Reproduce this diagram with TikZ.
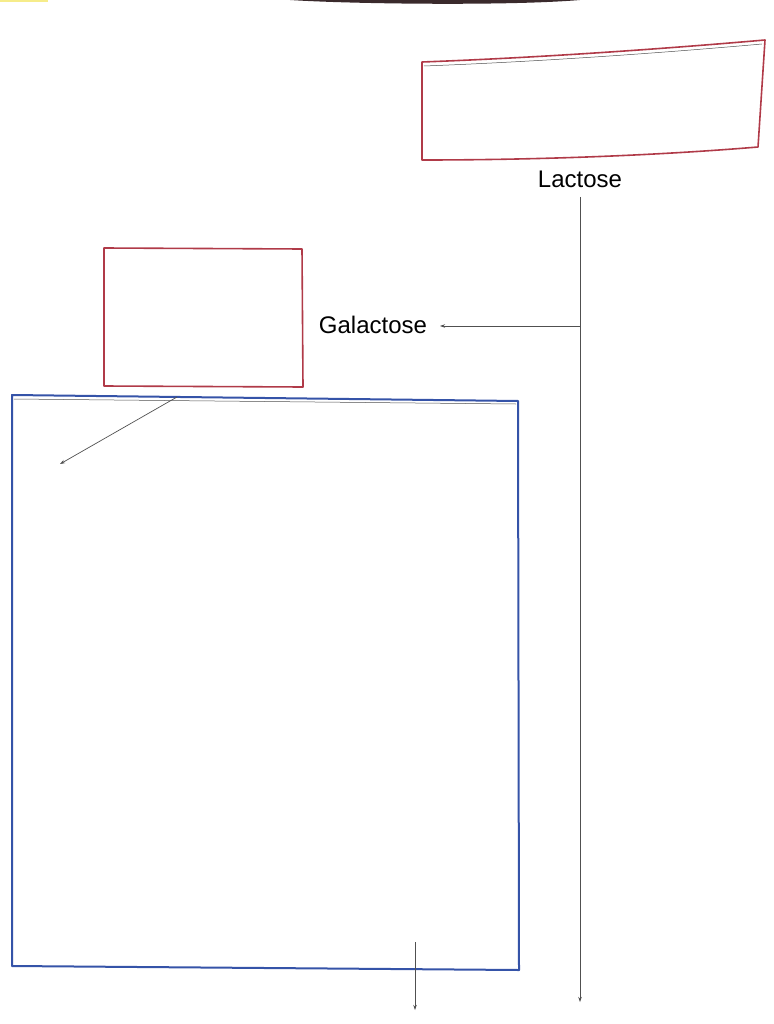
\documentclass[tikz,border=0pt]{standalone}
\usepackage{fontspec}
\setmainfont{Liberation Sans}
\usetikzlibrary{arrows.meta}
\definecolor{boxred}{HTML}{B03A48}
\definecolor{boxblue}{HTML}{3553A8}
\definecolor{arrgray}{HTML}{505050}
\definecolor{scanyellow}{HTML}{F6EC8A}
\definecolor{scandark}{HTML}{3A2A2C}
\begin{document}
\begin{tikzpicture}[x=1pt,y=-1pt,
  redline/.style={draw=boxred,line width=1.6pt,line join=round},
  blueline/.style={draw=boxblue,line width=2pt,line join=round},
  thinarrow/.style={draw=arrgray,line width=0.7pt,-{Stealth[length=5pt,width=3.5pt]}},
  label/.style={font=\fontsize{24}{28}\selectfont,inner sep=2pt}]
\useasboundingbox (0,0) rectangle (773,1024);
% scan artefacts at the top edge
\fill[scanyellow] (0,0) rectangle (48,2.5);
\fill[scandark] (290,0) .. controls (350,4) and (510,6) .. (580,0) -- cycle;
% big red box (top right)
\draw[redline] (422,62) .. controls (530,58) and (650,50) .. (765,40)
  -- (758,147) .. controls (650,156) and (530,160) .. (422,160) -- cycle;
\draw[arrgray,line width=0.5pt] (424,66) .. controls (530,62) and (650,54) .. (762,44);
% small red box
\draw[redline] (104,248) -- (302,249) -- (303,387) -- (104,386) -- cycle;
% blue box
\draw[blueline] (12,395) -- (518,401) -- (519,970) -- (12,966) -- cycle;
\draw[arrgray,line width=0.5pt] (14,399) -- (516,404);
% labels
\node[label] (lac) at (580,179) {Lactose};
\node[label] (gal) at (373,325) {Galactose};
% connectors
\coordinate (lactop) at (580,197);
\coordinate (branch) at (580,326);
\coordinate (lacend) at (580,1002);
\coordinate (galend) at (440,326);
\draw[thinarrow] (lactop) -- (lacend);
\draw[thinarrow] (branch) -- (galend);
\coordinate (diagstart) at (177,397);
\coordinate (diagend) at (60,464);
\draw[thinarrow] (diagstart) -- (diagend);
\coordinate (downstart) at (415,942);
\coordinate (downend) at (415,1010);
\draw[thinarrow] (downstart) -- (downend);
\end{tikzpicture}
\end{document}
